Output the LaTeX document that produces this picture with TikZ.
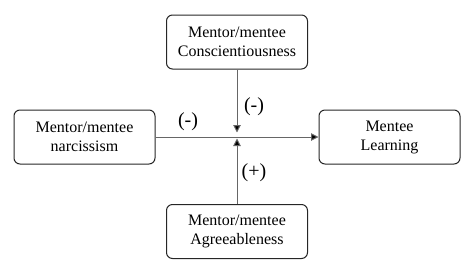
\documentclass[tikz,border=0pt]{standalone}
\usepackage{fontspec}
\setmainfont{Liberation Serif}
\usetikzlibrary{arrows.meta}
\tikzset{
  factor/.style={draw=black!85, line width=1pt, rounded corners=6pt,
    minimum width=141pt, minimum height=54pt, align=center,
    font=\fontsize{16}{19}\selectfont},
  link/.style={draw=black!60, line width=1pt,
    -{Triangle[length=7.5pt,width=7.5pt,fill=black]}},
  sign/.style={font=\fontsize{20}{22}\selectfont}
}
\begin{document}
\begin{tikzpicture}[x=1pt,y=-1pt]
\useasboundingbox (0,0) rectangle (474,274);
% the four factors
\node[factor] (consc) at (237,42) {Mentor/mentee\\Conscientiousness};
\node[factor] (narc) at (84.5,137) {Mentor/mentee\\narcissism};
\node[factor] (learn) at (389.5,137) {Mentee\\Learning};
\node[factor] (agree) at (237,231.5) {Mentor/mentee\\Agreeableness};
% junction on the main path
\coordinate (jtop) at (237,132.5);
\coordinate (jbot) at (237,138.5);
% main path and moderators
\draw[link] (narc.east) -- (learn.west);
\draw[link] (consc.south) -- (jtop);
\draw[link] (agree.north) -- (jbot);
% signs
\node[sign] (snarc) at (188,122) {(-)};
\node[sign] (sconsc) at (254,107) {(-)};
\node[sign] (sagree) at (254,173) {(+)};
\end{tikzpicture}
\end{document}
